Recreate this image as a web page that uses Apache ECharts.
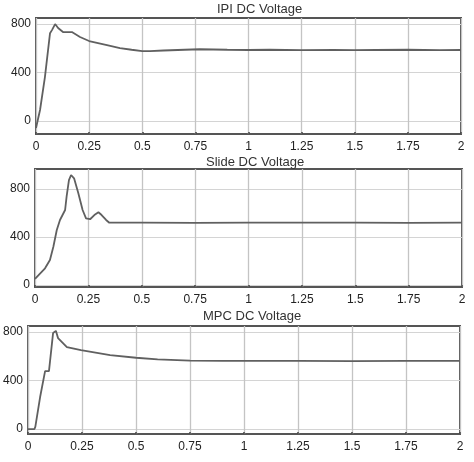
<!DOCTYPE html>
<html>
<head>
<meta charset="utf-8">
<script src="https://cdn.jsdelivr.net/npm/echarts@6/dist/echarts.min.js"></script>
<style>
html,body{margin:0;padding:0;background:#fff;}
#chart{width:474px;height:462px;}
</style>
</head>
<body>
<div id="chart"></div>
<script>
// ---- data ----
const titles = ['IPI DC Voltage', 'Slide DC Voltage', 'MPC DC Voltage'];
const xTicks = [0, 0.25, 0.5, 0.75, 1, 1.25, 1.5, 1.75, 2];
const yTicks = [0, 400, 800];

const ipiT = [0, 0.019, 0.042, 0.066, 0.075, 0.09, 0.104, 0.127, 0.169, 0.207, 0.25, 0.334, 0.395, 0.45, 0.5, 0.536, 0.6, 0.7, 0.77, 0.9, 1.0, 1.1, 1.25, 1.4, 1.5, 1.6, 1.75, 1.9, 2.0];
const ipiV = [-58, 91, 363, 725, 750, 800, 767, 734, 734, 693, 660, 627, 602, 588, 577, 577, 582, 588, 592, 588, 586, 588, 585, 587, 585, 586, 588, 585, 586];

const slideT = [0, 0.005, 0.047, 0.07, 0.086, 0.102, 0.117, 0.141, 0.148, 0.159, 0.169, 0.183, 0.203, 0.223, 0.239, 0.258, 0.278, 0.297, 0.312, 0.333, 0.348, 0.5, 0.75, 1, 1.25, 1.5, 1.75, 2];
const slideV = [50, 58, 139, 208, 319, 458, 542, 625, 736, 875, 917, 889, 764, 625, 556, 548, 583, 606, 583, 542, 519, 519, 518, 519, 520, 519, 518, 519];

const mpcT = [0, 0.03, 0.034, 0.056, 0.079, 0.097, 0.111, 0.116, 0.129, 0.139, 0.18, 0.245, 0.38, 0.5, 0.6, 0.75, 0.9, 1, 1.25, 1.5, 1.75, 2];
const mpcV = [0, 0, 20, 264, 478, 478, 709, 792, 810, 750, 676, 651, 610, 588, 575, 565, 562, 563, 562, 560, 562, 563];

const yMins = [-107, -17, -41];
const yMaxs = [850, 967, 850];

// ---- layout ----
const grids = [
  {left: 36, right: 13, top: 18, height: 116},
  {left: 35, right: 12, top: 169, height: 118},
  {left: 28, right: 14, top: 326, height: 108}
];
const titlePos = [{left: 217, top: 3}, {left: 206, top: 156}, {left: 203, top: 310}];

const seriesT = [ipiT, slideT, mpcT];
const seriesV = [ipiV, slideV, mpcV];

const option = {
  animation: false,
  backgroundColor: '#fff',
  title: titles.map((t, i) => ({
    text: t, left: titlePos[i].left, top: titlePos[i].top, padding: 0,
    textStyle: {fontFamily: 'Liberation Sans', fontSize: 13, fontWeight: 'normal', color: '#333'}
  })),
  grid: grids.map(g => Object.assign({show: true, borderColor: '#555', borderWidth: 2, backgroundColor: '#fff'}, g)),
  xAxis: grids.map((g, i) => ({
    type: 'value', gridIndex: i, min: 0, max: 2, interval: 0.25, position: 'bottom',
    axisLine: {show: false, onZero: false},
    axisTick: {show: true, inside: true, length: 2, lineStyle: {color: '#444', width: 1.5}},
    axisLabel: {color: '#222', fontSize: 12, fontFamily: 'Liberation Sans', margin: 7,
      formatter: v => String(+v.toFixed(2))},
    splitLine: {show: true, lineStyle: {color: '#c4c4c4', width: 1.3}}
  })),
  yAxis: grids.map((g, i) => ({
    type: 'value', gridIndex: i, min: yMins[i], max: yMaxs[i],
    axisLine: {show: false, onZero: false},
    axisTick: {show: false, customValues: yTicks},
    axisLabel: {customValues: yTicks, color: '#222', fontSize: 12, fontFamily: 'Liberation Sans', margin: 5},
    splitLine: {show: true, lineStyle: {color: '#d4d4d4', width: 1.2}}
  })),
  series: seriesT.map((ts, i) => ({
    type: 'line', xAxisIndex: i, yAxisIndex: i, showSymbol: false, smooth: false,
    data: ts.map((t, k) => [t, seriesV[i][k]]),
    lineStyle: {color: '#606060', width: 1.8}
  }))
};

const chart = echarts.init(document.getElementById('chart'), null, {renderer: 'canvas'});
chart.setOption(option);
</script>
</body>
</html>
